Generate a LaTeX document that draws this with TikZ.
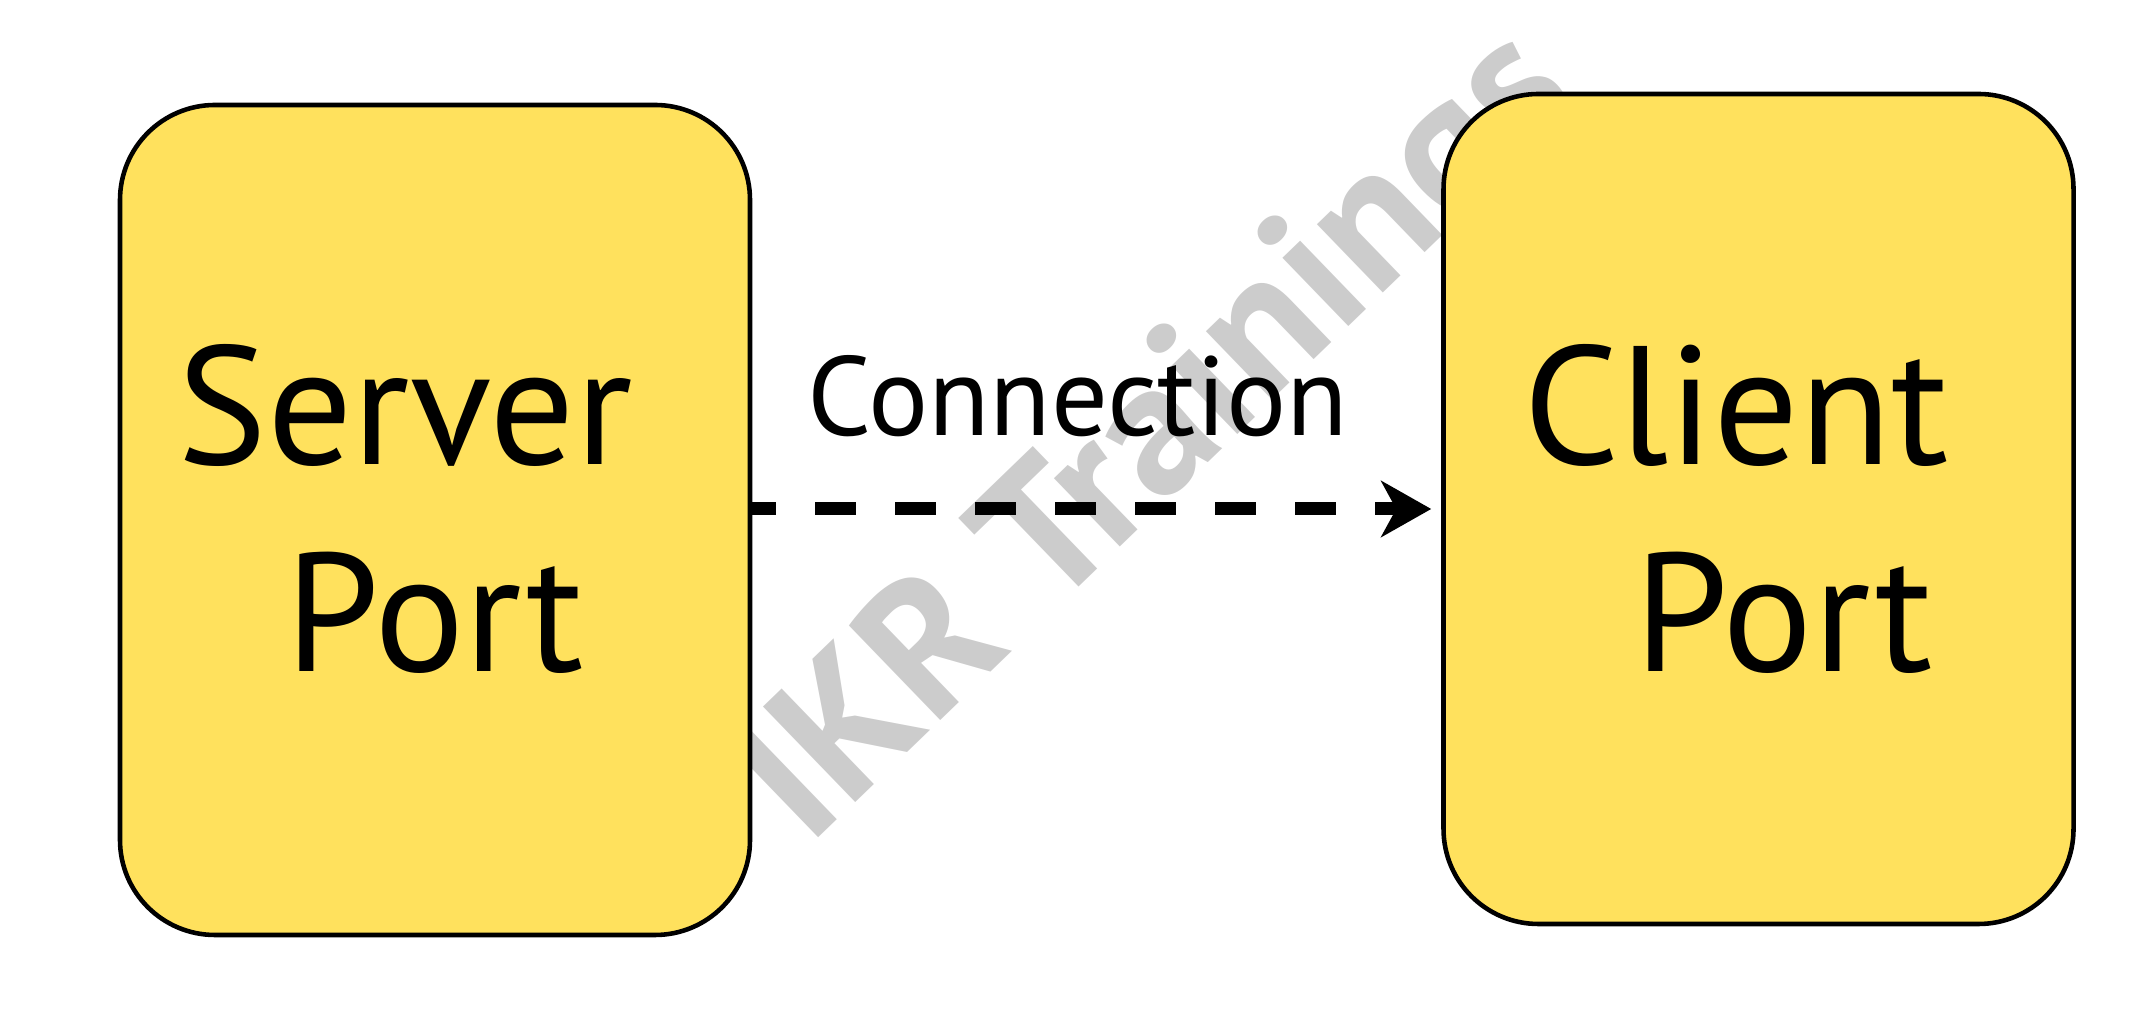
\documentclass[tikz,border=0pt]{standalone}
\usepackage{fontspec}
\setmainfont{PT Sans}
\usepackage{tikz}
\usetikzlibrary{arrows.meta}
\definecolor{portyellow}{HTML}{FFE15D}
\definecolor{markgray}{HTML}{CCCCCC}

\begin{document}
\begin{tikzpicture}[
    port/.style={draw, line width=1.3pt, fill=portyellow, rounded corners=0.95cm,
        minimum width=6.3cm, minimum height=8.3cm, align=center,
        font=\fontsize{48}{59}\selectfont},
    conn/.style={line width=3.7pt, dash pattern=on 0.41cm off 0.39cm, dash phase=0.17cm,
        shorten >=0.1cm, -{Stealth[length=0.5cm,width=0.56cm,inset=0.15cm]}},
    ]

    \useasboundingbox (0,0) rectangle (21.34,10.17);

    % watermark, behind the ports
    \node (mark) at (11.62,5.76) [rotate=44, text=markgray, font=\fontsize{54}{54}\bfseries\selectfont] {IKR Trainings};

    \node (server) at (4.35,4.97) [port] {Server\kern0.6cm\\Port\rule[-0.24cm]{0pt}{0pt}};
    \node (client) at (17.585,5.08) [port] {Client\kern0.45cm\\\hspace{0.5cm}Port};

    \draw [conn] (server.east |- client.west) -- node[anchor=base, yshift=0.73cm, xshift=-0.19cm, font=\fontsize{32}{32}\selectfont] (connlabel) {Connection} (client.west);

\end{tikzpicture}
\end{document}
